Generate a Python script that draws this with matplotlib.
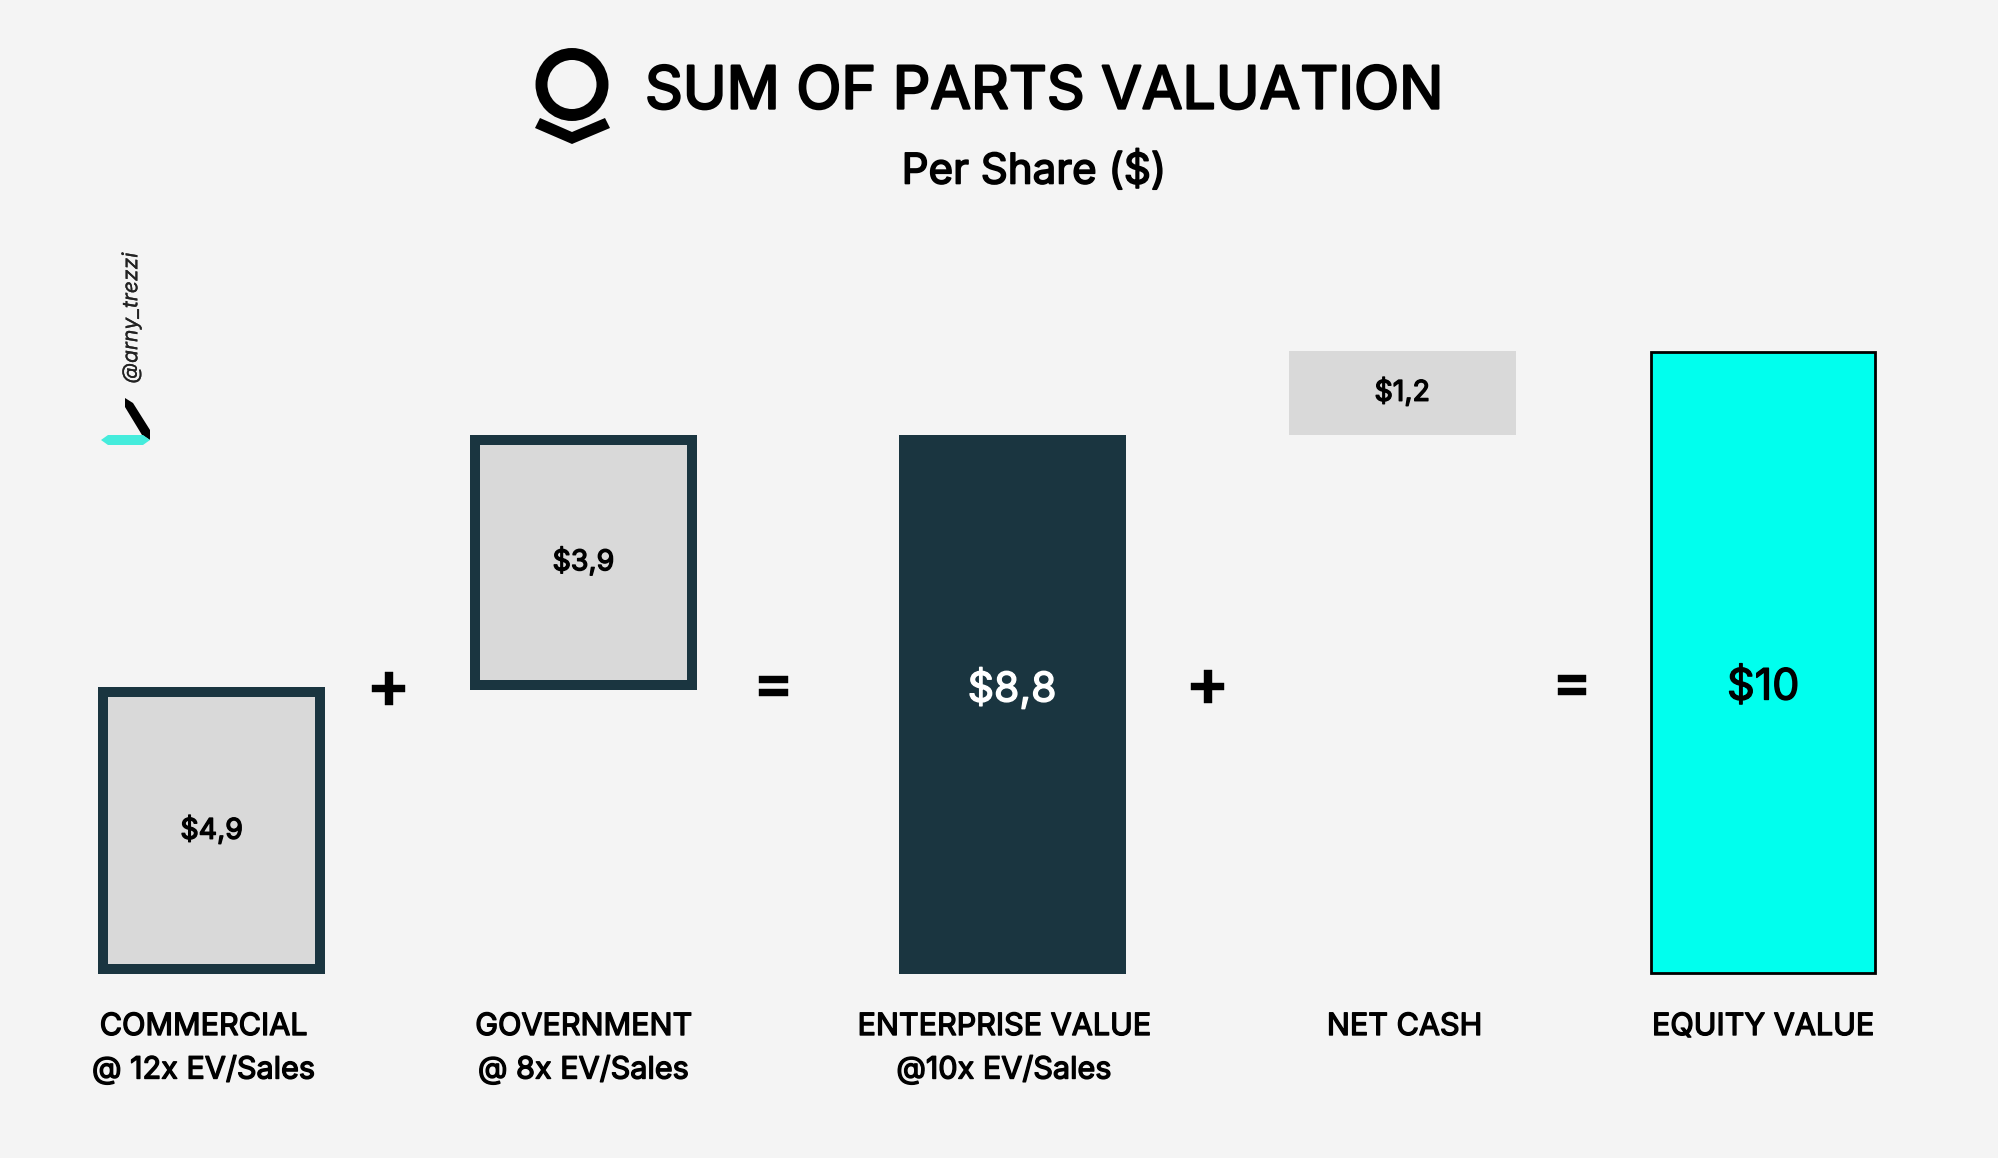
import matplotlib
matplotlib.use('Agg')
import matplotlib.pyplot as plt
import matplotlib.patheffects as pe
from matplotlib.patches import Polygon, Ellipse

# Data (bar heights in $, scale set by the $10 bar)
labels = ['$4,9', '$3,9', '$8,8', '$1,2', '$10']
bottoms = [0, 4.556, 0, 8.645, 0]
heights = [4.61, 4.09, 8.645, 1.36, 10.0]
names = [['COMMERCIAL', '@ 12x EV/Sales'], ['GOVERNMENT', '@ 8x EV/Sales'],
         ['ENTERPRISE VALUE', '@10x EV/Sales'], ['NET CASH'], ['EQUITY VALUE']]
signs = ['+', '=', '+', '=']

# Layout, all in pixels of the picture
W, H = 1998, 1158
Y0 = 973.7
PX = 62.27
centers = [211.7, 583.5, 1012.2, 1402.2, 1763.2]
width = 226.7
border = 10
label_y = [830, 561.5, 688.5, 392, 688]
label_size = [20.5, 20.5, 29.5, 20.5, 31]
name_x = [203.5, 583.5, 1004, 1404.5, 1763]
sign_x = [388.7, 773.6, 1207.6, 1572]
sign_y = [690.5, 688, 688.5, 687]
sign_size = [47, 42, 47, 42]

bg = '#f4f4f4'
dark = '#1a3540'
grey = '#d9d9d9'
cyan = '#00ffee'

plt.rcParams['font.family'] = ['Inter', 'Open Sans', 'DejaVu Sans']

fig = plt.figure(figsize=(W / 100, H / 100), dpi=100, facecolor=bg)
ax = fig.add_axes([0, 0, 1, 1])
ax.set_xlim(0, W)
ax.set_ylim(-(H - Y0) / PX, Y0 / PX)
ax.axis('off')


def at(x, y):
    # picture pixels to figure coordinates
    return x / W, 1 - y / H


def ftext(x, y, s, size, color='black', stroke=1.0, **kw):
    # the thin stroke stands in for the medium weight of the original font
    t = fig.text(*at(x, y), s, fontsize=size, color=color, ha=kw.pop('ha', 'center'), va='center', **kw)
    t.set_path_effects([pe.withStroke(linewidth=stroke, foreground=color)])
    return t


def fpoly(points, color):
    fig.add_artist(Polygon([at(*p) for p in points], transform=fig.transFigure,
                           facecolor=color, edgecolor='none'))


# Bars
for i in [0, 1]:
    ax.bar(centers[i], heights[i], width, bottom=bottoms[i], color=dark)
    ax.bar(centers[i], heights[i] - 2 * border / PX, width - 2 * border,
           bottom=bottoms[i] + border / PX, color=grey)
ax.bar(centers[2], heights[2], width, bottom=bottoms[2], color=dark)
ax.bar(centers[3], heights[3], width, bottom=bottoms[3], color=grey)
ax.bar(centers[4], heights[4] - 2 / PX, width - 3, bottom=bottoms[4] + 1 / PX, color=cyan,
       edgecolor='black', linewidth=2, joinstyle='miter')

for i in range(5):
    ftext(centers[i], label_y[i], labels[i], label_size[i], color='white' if i == 2 else 'black')

for i in range(5):
    for j in range(len(names[i])):
        ftext(name_x[i], 1027 + 42.5 * j, names[i][j], 22)

for i in range(4):
    ftext(sign_x[i], sign_y[i], signs[i], sign_size[i], fontweight='bold', stroke=0.3)

# Title
ftext(645, 93, 'SUM OF PARTS VALUATION', 42.4, ha='left', stroke=1.7)
ftext(1034, 171, 'Per Share ($)', 30.3, stroke=1.2)

# Logo
cx, cy = at(572, 84.5)
fig.add_artist(Ellipse((cx, cy), 61 / W, 61 / H, transform=fig.transFigure,
                       facecolor='none', edgecolor='black', linewidth=8.6))
fpoly([(540, 118), (535, 128), (572, 144), (610, 128), (605, 118), (572, 132)], 'black')

# Watermark
ftext(131, 318, '@arny_trezzi', 15.2, color='#222222', stroke=0.2, rotation=90, style='italic')
fpoly([(125, 398), (133, 403), (150, 430), (150, 440), (142, 435), (125, 407)], 'black')
fpoly([(101, 440), (108, 435), (143, 435), (150, 440), (143, 445), (108, 445)], '#45ecdc')

fig.savefig('out.png', dpi=100, facecolor=bg)
